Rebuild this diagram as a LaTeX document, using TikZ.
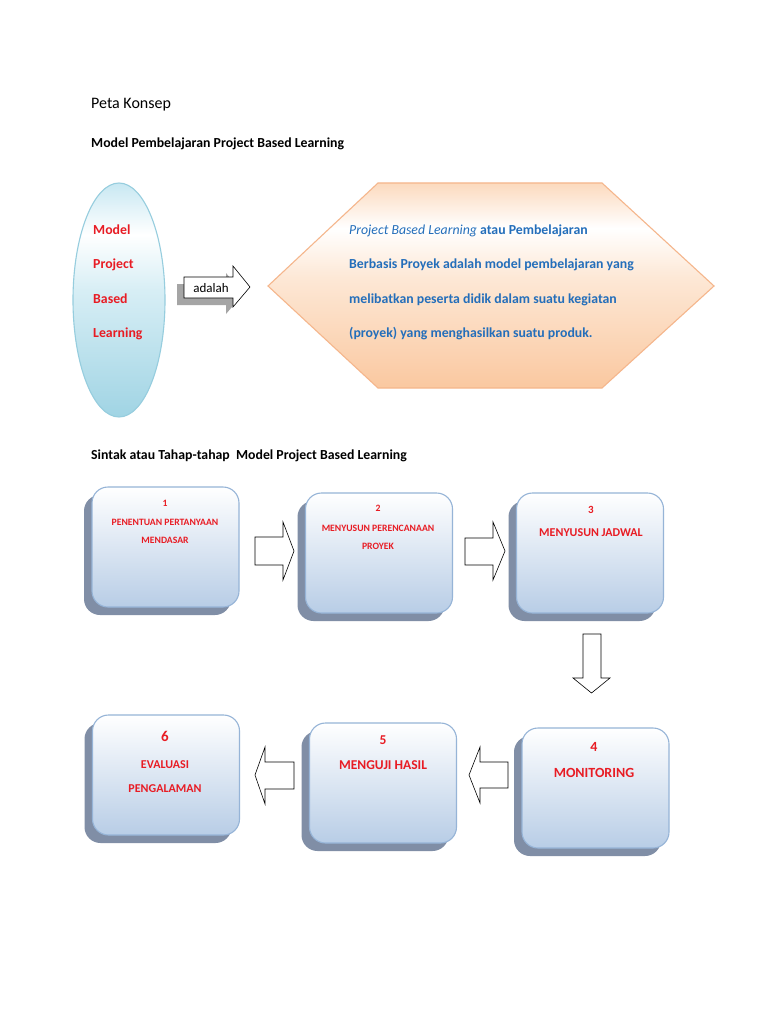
\documentclass[tikz,border=0pt]{standalone}
\usepackage{fontspec}
\setmainfont{Carlito}
\usetikzlibrary{shapes.geometric,shadows}
\definecolor{txtred}{RGB}{232,28,36}
\definecolor{txtblue}{RGB}{36,110,186}
\definecolor{boxbot}{RGB}{184,205,230}
\definecolor{boxline}{RGB}{150,180,215}
\definecolor{boxshadow}{RGB}{128,142,166}
\definecolor{ellbot}{RGB}{160,212,228}
\definecolor{ellmid}{RGB}{215,238,245}
\definecolor{elltop}{RGB}{200,232,242}
\definecolor{ellline}{RGB}{150,205,222}
\definecolor{hexbot}{RGB}{250,200,160}
\definecolor{hexmid}{RGB}{253,232,214}
\definecolor{hextop}{RGB}{252,218,190}
\definecolor{hexline}{RGB}{245,182,140}
\definecolor{arrshadow}{RGB}{165,165,165}
\pgfdeclareverticalshading{ellshade}{100bp}{color(0bp)=(ellbot); color(25bp)=(ellbot); color(52bp)=(ellmid); color(64bp)=(white); color(75bp)=(elltop); color(100bp)=(elltop)}
\pgfdeclareverticalshading{hexshade}{100bp}{color(0bp)=(hexbot); color(25bp)=(hexbot); color(52bp)=(hexmid); color(64bp)=(white); color(75bp)=(hextop); color(100bp)=(hextop)}
\begin{document}
\begin{tikzpicture}[x=1pt,y=-1pt,
  stepbox/.style={draw=boxline, line width=1.1pt, rounded corners=16pt,
    top color=white, bottom color=boxbot, minimum width=147pt, minimum height=120pt,
    drop shadow={shadow xshift=-8pt, shadow yshift=-8pt, fill=boxshadow, opacity=1}},
  redt/.style={text=txtred, anchor=base, inner sep=0pt, font=\bfseries},
  bluet/.style={text=txtblue, anchor=base west, inner sep=0pt, font=\fontsize{13.8}{16}\selectfont\bfseries},
  blockarrow/.style={draw=black, line width=0.6pt, fill=white},
  heading/.style={anchor=base west, inner sep=0pt, font=\fontsize{13.8}{16}\selectfont\bfseries}]
\useasboundingbox (0,0) rectangle (768,1024);
\fill[white] (0,0) rectangle (768,1024);

% titles
\node[anchor=base west, inner sep=0pt, font=\fontsize{16}{18}\selectfont] (title) at (91,109) {Peta Konsep};
\node[heading] (h1) at (91,148) {Model Pembelajaran Project Based Learning};
\node[heading] (h2) at (91,459) {Sintak atau Tahap-tahap\ \ Model Project Based Learning};

% ellipse
\node[ellipse, draw=ellline, line width=1.1pt, shading=ellshade, minimum width=92pt, minimum height=234pt, inner sep=0pt] (ell) at (119,300) {};
\begin{scope}[every node/.style={anchor=base west, inner sep=0pt, text=txtred, font=\fontsize{13.8}{16}\selectfont\bfseries}]
\node (e1) at (93,234) {Model};
\node (e2) at (93,268.5) {Project};
\node (e3) at (93,303) {Based};
\node (e4) at (93,337.5) {Learning};
\end{scope}

% adalah arrow
\fill[arrshadow] (177,284) -- (226,284) -- (226,273) -- (243,294) -- (226,314) -- (226,305) -- (177,305) -- cycle;
\draw[blockarrow] (184,277) -- (233,277) -- (233,266) -- (250,287) -- (233,307) -- (233,298) -- (184,298) -- cycle;
\node[anchor=base, inner sep=0pt, font=\fontsize{13}{15}\selectfont] (adalah) at (211,292) {adalah};

% hexagon
\coordinate (hA) at (378,183);
\coordinate (hB) at (602,183);
\coordinate (hC) at (714,286);
\coordinate (hD) at (602,388);
\coordinate (hE) at (378,388);
\coordinate (hF) at (268,286);
\draw[draw=hexline, line width=1.1pt, shading=hexshade] (hA) -- (hB) -- (hC) -- (hD) -- (hE) -- (hF) -- cycle;
\node[bluet] (p1) at (349,234) {{\mdseries\itshape Project Based Learning} atau Pembelajaran};
\node[bluet] (p2) at (349,268.5) {Berbasis Proyek adalah model pembelajaran yang};
\node[bluet] (p3) at (349,303) {melibatkan peserta didik dalam suatu kegiatan};
\node[bluet] (p4) at (349,337.5) {(proyek) yang menghasilkan suatu produk.};

% boxes
\node[stepbox] (b1) at (165.5,547) {};
\node[stepbox] (b2) at (379,553) {};
\node[stepbox] (b3) at (590,553) {};
\node[stepbox] (b4) at (595.5,788) {};
\node[stepbox] (b5) at (383,783) {};
\node[stepbox] (b6) at (166,775) {};

% box texts
\node[redt, font=\fontsize{9.7}{11}\selectfont\bfseries] (t1a) at (165,506) {1};
\node[redt, font=\fontsize{9.7}{11}\selectfont\bfseries] (t1b) at (165,525) {PENENTUAN PERTANYAAN};
\node[redt, font=\fontsize{9.7}{11}\selectfont\bfseries] (t1c) at (165,543) {MENDASAR};
\node[redt, font=\fontsize{9.7}{11}\selectfont\bfseries] (t2a) at (378,511) {2};
\node[redt, font=\fontsize{9.7}{11}\selectfont\bfseries] (t2b) at (378,531) {MENYUSUN PERENCANAAN};
\node[redt, font=\fontsize{9.7}{11}\selectfont\bfseries] (t2c) at (378,549) {PROYEK};
\node[redt, font=\fontsize{11}{13}\selectfont\bfseries] (t3a) at (591,513) {3};
\node[redt, font=\fontsize{12}{14}\selectfont\bfseries] (t3b) at (591,536) {MENYUSUN JADWAL};
\node[redt, font=\fontsize{14}{16}\selectfont\bfseries] (t4a) at (594,751) {4};
\node[redt, font=\fontsize{14}{16}\selectfont\bfseries] (t4b) at (594,777) {MONITORING};
\node[redt, font=\fontsize{13.5}{16}\selectfont\bfseries] (t5a) at (383,744) {5};
\node[redt, font=\fontsize{13.5}{16}\selectfont\bfseries] (t5b) at (383,769) {MENGUJI HASIL};
\node[redt, font=\fontsize{15}{17}\selectfont\bfseries] (t6a) at (165,741) {6};
\node[redt, font=\fontsize{12}{14}\selectfont\bfseries] (t6b) at (165,768) {EVALUASI};
\node[redt, font=\fontsize{12}{14}\selectfont\bfseries] (t6c) at (165,792) {PENGALAMAN};

% block arrows between steps
\draw[blockarrow] (255,537) -- (283,537) -- (283,522) -- (294,551) -- (283,580) -- (283,565) -- (255,565) -- cycle;
\draw[blockarrow] (465,538) -- (493,538) -- (493,522) -- (505,551) -- (493,580) -- (493,565) -- (465,565) -- cycle;
\draw[blockarrow] (583,634) -- (601,634) -- (601,678) -- (610,678) -- (591.5,693) -- (573,678) -- (583,678) -- cycle;
\draw[blockarrow] (508,762) -- (480,762) -- (480,747) -- (469,775) -- (480,803) -- (480,788) -- (508,788) -- cycle;
\draw[blockarrow] (294,762) -- (265,762) -- (265,747) -- (255,775) -- (265,804) -- (265,789) -- (294,789) -- cycle;
\end{tikzpicture}
\end{document}
